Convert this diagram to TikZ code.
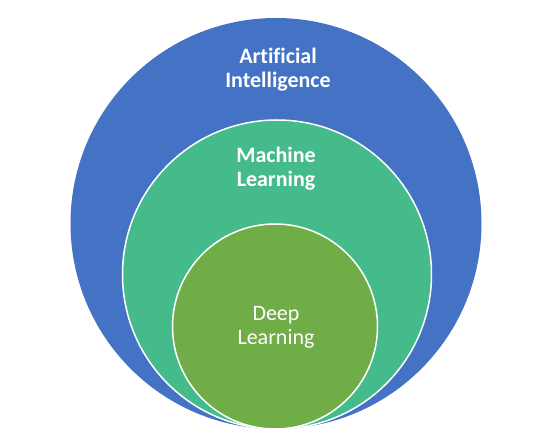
\documentclass[tikz,border=0pt]{standalone}
\usepackage{fontspec}
\setmainfont[Ligatures=NoCommon]{Carlito}
\definecolor{aiblue}{HTML}{4472C4}
\definecolor{mlgreen}{HTML}{45BB8C}
\definecolor{dlgreen}{HTML}{70AD47}
\begin{document}
\begin{tikzpicture}[x=1pt,y=1pt,
  ring/.style={circle,inner sep=0pt,outer sep=0pt},
  lbl/.style={text=white,align=center,font=\fontsize{22}{24.5}\selectfont,inner sep=0pt}]
\useasboundingbox (0,0) rectangle (555,444);
\node[ring,fill=aiblue,minimum size=411pt] (ai) at (276,220.5) {};
\node[ring,fill=mlgreen,draw=white,line width=1.5pt,minimum size=309pt] (ml) at (277,169.5) {};
\node[ring,fill=dlgreen,draw=white,line width=1.5pt,minimum size=205pt] (dl) at (275,117.5) {};
\node[lbl,font=\fontsize{22}{24.5}\selectfont\bfseries,anchor=base] (ait) at (278,356) {Artificial\\Intelligence};
\node[lbl,font=\fontsize{22}{24.5}\selectfont\bfseries,anchor=base] (mlt) at (276,257) {Machine\\Learning};
\node[lbl,anchor=base] (dlt) at (276,99) {Deep\\Learning};
\end{tikzpicture}
\end{document}
